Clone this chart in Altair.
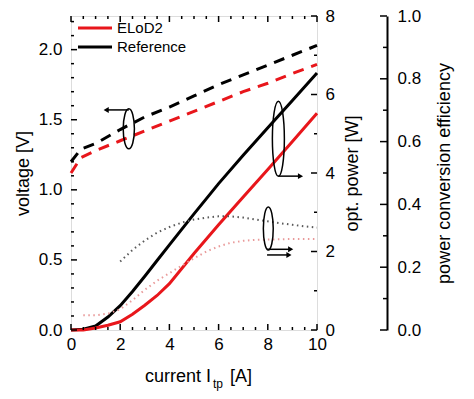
import altair as alt
import pandas as pd

# ---------------- data ----------------
series_names = ["ELoD2", "Reference"]

# voltage (dashed, left axis)
I_volt = [0, 0.4, 1, 2, 3, 4, 5, 6, 7, 8, 9, 10]
volt_elod = [1.12, 1.23, 1.28, 1.35, 1.42, 1.49, 1.56, 1.63, 1.70, 1.76, 1.83, 1.895]
volt_ref = [1.20, 1.29, 1.33, 1.43, 1.52, 1.59, 1.67, 1.75, 1.82, 1.89, 1.96, 2.03]

# optical power (solid, right axis)
I_pow = [0, 0.5, 1, 1.5, 2, 2.5, 3, 3.5, 4, 5, 6, 7, 8, 9, 10]
pow_elod = [0, 0.0, 0.05, 0.12, 0.21, 0.40, 0.63, 0.88, 1.18, 1.95, 2.68, 3.39, 4.09, 4.80, 5.52]
pow_ref = [0, 0.02, 0.10, 0.33, 0.62, 0.98, 1.37, 1.77, 2.17, 2.96, 3.73, 4.45, 5.15, 5.85, 6.55]

# power conversion efficiency (dotted, far right axis)
I_eff_elod = [0.5, 1, 1.5, 2, 2.5, 3, 3.5, 4, 4.5, 5, 5.5, 6, 6.5, 7, 7.5, 8, 9, 10]
eff_elod = [0.047, 0.047, 0.052, 0.066, 0.095, 0.128, 0.157, 0.181, 0.205, 0.228, 0.25,
            0.266, 0.278, 0.284, 0.287, 0.288, 0.29, 0.29]
I_eff_ref = [2, 2.5, 3, 3.5, 4, 4.5, 5, 5.5, 6, 6.5, 7, 7.5, 8, 8.5, 9, 9.5, 10]
eff_ref = [0.218, 0.255, 0.285, 0.31, 0.328, 0.342, 0.352, 0.358, 0.362, 0.362, 0.358,
           0.352, 0.346, 0.34, 0.335, 0.33, 0.326]

# tick positions
x_major = [0, 2, 4, 6, 8, 10]
x_minor = [0.5, 1, 1.5, 2.5, 3, 3.5, 4.5, 5, 5.5, 6.5, 7, 7.5, 8.5, 9, 9.5]
v_major = [0, 0.5, 1.0, 1.5, 2.0]
v_minor = [0.1, 0.2, 0.3, 0.4, 0.6, 0.7, 0.8, 0.9, 1.1, 1.2, 1.3, 1.4, 1.6, 1.7, 1.8, 1.9, 2.1, 2.2]
p_major = [0, 2, 4, 6, 8]
p_minor = [1, 3, 5, 7]
e_major = [0, 0.2, 0.4, 0.6, 0.8, 1.0]
e_minor = [0.1, 0.3, 0.5, 0.7, 0.9]

# annotation anchors (data coordinates)
ell_volt = {"I": [2.35], "v": [1.435]}
arrow_volt = {"I": [2.35], "I2": [1.45], "v": [1.57], "tip": [1.43]}
ell_pow = {"I": [8.43], "v": [4.87]}
arrow_pow = {"I": [8.43], "I2": [9.35], "v": [3.92], "tip": [9.33]}
ell_eff = {"I": [8.02], "v": [0.323]}
arrow_eff = {"I": [7.97, 7.97], "I2": [8.95, 8.88], "v": [0.257, 0.239], "tip": [8.93, 8.86]}

# ---------------- styling ----------------
W, H = 246, 314
RED = "#e8161b"
BLACK = "#000000"
RED_DOT = "#e99a9a"
BLACK_DOT = "#5a5a5a"
FONT = "Liberation Sans"
EFF_OFFSET = 70

xs = alt.Scale(domain=[0, 10], nice=False, zero=False)
ys_v = alt.Scale(domain=[0, 2.24], nice=False, zero=False)
ys_p = alt.Scale(domain=[0, 8], nice=False, zero=False)
ys_e = alt.Scale(domain=[0, 1], nice=False, zero=False)


def frame(I, vals):
    return pd.DataFrame({"I": I, "val": vals})


X_NOAXIS = alt.X("I:Q", scale=xs, axis=None)

layers = []

# --- x axis carrier + voltage (dashed) with left axis ---
x_axis = alt.Axis(orient="bottom", values=x_major, format="d", ticks=False, domain=False, grid=False,
                  title=None, labelPadding=6, labelFontSize=17, labelFlush=False,
                  labelFont=FONT, labelColor=BLACK)
volt_axis = alt.Axis(orient="left", values=v_major, format=".1f", ticks=False, domain=False,
                     grid=False, title="voltage [V]", titlePadding=6, labelPadding=9,
                     labelFontSize=17, titleFontSize=18, titleFontWeight="normal",
                     labelFont=FONT, titleFont=FONT, labelColor=BLACK, titleColor=BLACK)
layers.append(
    alt.Chart(frame(I_volt, volt_ref)).mark_line(color=BLACK, strokeWidth=3, strokeDash=[11, 8]).encode(
        x=alt.X("I:Q", scale=xs, axis=x_axis),
        y=alt.Y("val:Q", scale=ys_v, axis=volt_axis))
)
layers.append(
    alt.Chart(frame(I_volt, volt_elod)).mark_line(color=RED, strokeWidth=3, strokeDash=[11, 8]).encode(
        x=X_NOAXIS, y=alt.Y("val:Q", scale=ys_v, axis=None))
)

# --- optical power (solid) with right axis ---
pow_axis = alt.Axis(orient="right", values=p_major, format="d", ticks=False, domain=False, grid=False,
                    title="opt. power [W]", titleAngle=-90, titleBaseline="top", titlePadding=9,
                    labelPadding=8, labelFontSize=17, titleFontSize=18, titleFontWeight="normal",
                    labelFont=FONT, titleFont=FONT, labelColor=BLACK, titleColor=BLACK)
layers.append(
    alt.Chart(frame(I_pow, pow_ref)).mark_line(color=BLACK, strokeWidth=3).encode(
        x=X_NOAXIS, y=alt.Y("val:Q", scale=ys_p, axis=pow_axis))
)
layers.append(
    alt.Chart(frame(I_pow, pow_elod)).mark_line(color=RED, strokeWidth=3).encode(
        x=X_NOAXIS, y=alt.Y("val:Q", scale=ys_p, axis=None))
)

# --- efficiency (dotted) with far-right axis ---
eff_axis = alt.Axis(orient="right", offset=EFF_OFFSET, values=e_major, format=".1f", ticks=False,
                    domain=True, domainColor=BLACK, domainWidth=2, grid=False,
                    title="power conversion efficiency", titleAngle=-90, titleBaseline="top",
                    titlePadding=15, labelPadding=10, labelFontSize=17, titleFontSize=18,
                    titleFontWeight="normal", labelFont=FONT, titleFont=FONT,
                    labelColor=BLACK, titleColor=BLACK)
layers.append(
    alt.Chart(frame(I_eff_ref, eff_ref)).mark_line(color=BLACK_DOT, strokeWidth=2, strokeDash=[1.5, 3.5]).encode(
        x=X_NOAXIS, y=alt.Y("val:Q", scale=ys_e, axis=eff_axis))
)
layers.append(
    alt.Chart(frame(I_eff_elod, eff_elod)).mark_line(color=RED_DOT, strokeWidth=2, strokeDash=[1.5, 3.5]).encode(
        x=X_NOAXIS, y=alt.Y("val:Q", scale=ys_e, axis=None))
)

# --- manual ticks ---
def xticks(vals, length, top):
    y0 = 0 if top else H
    y1 = length if top else H - length
    return alt.Chart(pd.DataFrame({"I": vals})).mark_rule(color=BLACK, strokeWidth=1.5).encode(
        x=X_NOAXIS, y=alt.value(y0), y2=alt.value(y1))


def yticks(vals, scale, x0, x1):
    return alt.Chart(pd.DataFrame({"t": vals})).mark_rule(color=BLACK, strokeWidth=1.5).encode(
        y=alt.Y("t:Q", scale=scale, axis=None), x=alt.value(x0), x2=alt.value(x1))


layers += [
    xticks(x_major, 6, False), xticks(x_minor, 3, False),
    xticks(x_major, 6, True), xticks(x_minor, 3, True),
    yticks(v_major, ys_v, 0, 6), yticks(v_minor, ys_v, 0, 3),
    yticks(p_major, ys_p, W, W - 6), yticks(p_minor, ys_p, W, W - 3),
    yticks(e_major, ys_e, W + EFF_OFFSET, W + EFF_OFFSET - 7),
    yticks(e_minor, ys_e, W + EFF_OFFSET, W + EFF_OFFSET - 4),
]

# --- annotations: ellipses + arrows ---
def ellipse_path(rx):
    return f"M0,-1A{rx},1,0,1,1,0,1A{rx},1,0,1,1,0,-1Z"


def ellipse(d, scale, rx, size):
    return alt.Chart(pd.DataFrame(d)).mark_point(
        shape=ellipse_path(rx), filled=False, stroke=BLACK, strokeWidth=1.5, size=size, opacity=1
    ).encode(x=X_NOAXIS, y=alt.Y("v:Q", scale=scale, axis=None))


def arrow(d, scale, head):
    df = pd.DataFrame(d)
    shaft = alt.Chart(df).mark_rule(color=BLACK, strokeWidth=1.5).encode(
        x=X_NOAXIS, x2="I2:Q", y=alt.Y("v:Q", scale=scale, axis=None))
    tip = alt.Chart(df).mark_point(shape=head, filled=True, color=BLACK, size=35, opacity=1).encode(
        x=alt.X("tip:Q", scale=xs, axis=None), y=alt.Y("v:Q", scale=scale, axis=None))
    return [shaft, tip]


layers.append(ellipse(ell_volt, ys_v, 0.28, 1600))
layers += arrow(arrow_volt, ys_v, "triangle-left")
layers.append(ellipse(ell_pow, ys_p, 0.16, 5625))
layers += arrow(arrow_pow, ys_p, "triangle-right")
layers.append(ellipse(ell_eff, ys_e, 0.23, 1850))
layers += arrow(arrow_eff, ys_e, "triangle-right")

# --- legend (manual) ---
legend_colors = [RED, BLACK]
legend_rows_y = [12, 31]
for name, col, yy in zip(series_names, legend_colors, legend_rows_y):
    ldf = pd.DataFrame({"name": [name]})
    layers.append(alt.Chart(ldf).mark_rule(color=col, strokeWidth=3).encode(
        x=alt.value(7), x2=alt.value(41), y=alt.value(yy)))
    layers.append(alt.Chart(ldf).mark_text(align="left", baseline="middle", font=FONT, fontSize=15,
                                           color=BLACK).encode(
        x=alt.value(46), y=alt.value(yy), text="name:N"))

# --- x title with subscript ---
title_parts = pd.DataFrame({"main": ["current I"], "sub": ["tp"], "unit": ["[A]"]})
layers.append(alt.Chart(title_parts).mark_text(align="right", baseline="alphabetic", font=FONT,
                                               fontSize=18, color=BLACK).encode(
    x=alt.value(140), y=alt.value(366), text="main:N"))
layers.append(alt.Chart(title_parts).mark_text(align="left", baseline="alphabetic", font=FONT,
                                               fontSize=12, color=BLACK).encode(
    x=alt.value(142), y=alt.value(372), text="sub:N"))
layers.append(alt.Chart(title_parts).mark_text(align="left", baseline="alphabetic", font=FONT,
                                               fontSize=18, color=BLACK).encode(
    x=alt.value(159), y=alt.value(366), text="unit:N"))

chart = alt.layer(*layers).resolve_scale(y="independent").resolve_axis(x="independent").properties(
    width=W, height=H,
    autosize=alt.AutoSizeParams(type="none"),
    padding={"left": 63, "top": 8, "right": 140, "bottom": 62},
).configure_view(stroke=BLACK, strokeWidth=2).configure(background="white")

chart.save("out.html", embed_options={"renderer": "svg", "actions": False})
